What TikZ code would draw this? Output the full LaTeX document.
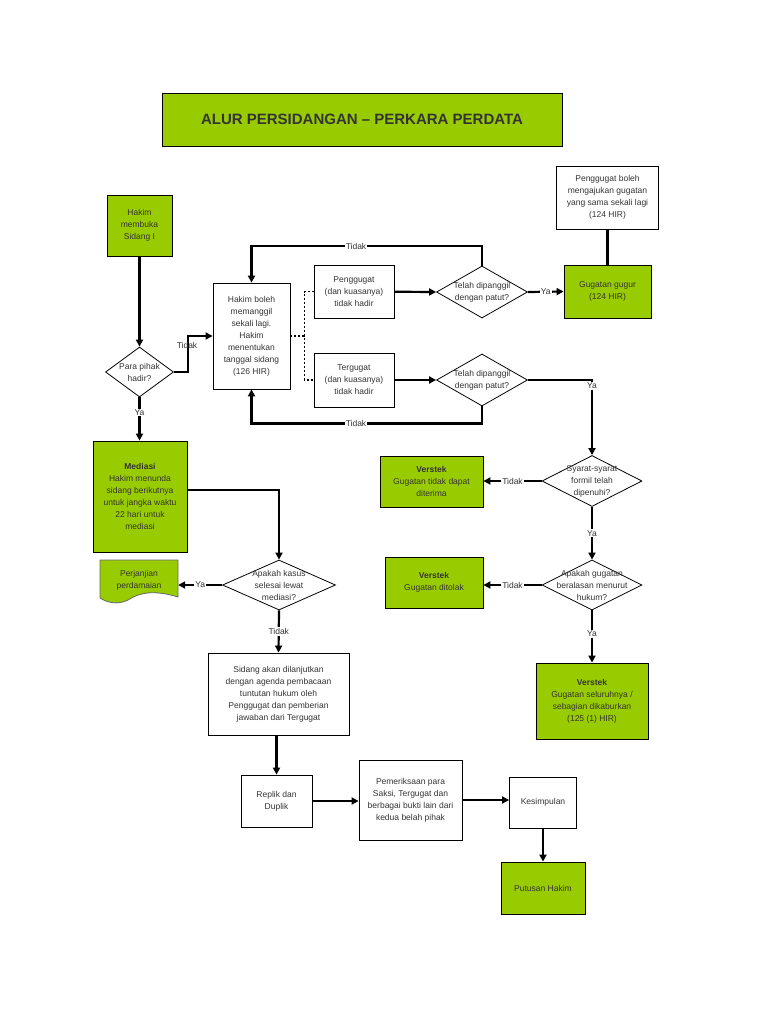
\documentclass[tikz,border=0pt]{standalone}
\usepackage{fontspec}
\setmainfont{Liberation Sans}
\usetikzlibrary{shapes.geometric,arrows.meta}
\definecolor{lg}{RGB}{153,204,0}
\begin{document}
\begin{tikzpicture}[x=1pt,y=-1pt,
 txt/.style={font=\fontsize{8.5}{12}\selectfont,align=center,text=black!80},
 box/.style={txt,draw,line width=0.8pt,inner sep=2pt},
 gbox/.style={box,fill=lg},
 dia/.style={draw,line width=0.8pt,diamond,inner sep=0pt},
 arr/.style={line width=2.2pt,-{Triangle[length=7pt,width=7pt]}},
 ln/.style={line width=2.2pt},
 dot/.style={line width=1.6pt,dash pattern=on 2pt off 2pt},
 lbl/.style={txt,fill=white,inner sep=1pt}]
\useasboundingbox (0,0) rectangle (768,1024);
\node[gbox,minimum width=400,minimum height=53,font=\bfseries\fontsize{15}{18}\selectfont] (title) at (362,119.5) {ALUR PERSIDANGAN -- PERKARA PERDATA};
\node[gbox,minimum width=65,minimum height=61] (open) at (139.5,225.5) {Hakim\\membuka\\Sidang I};
\node[dia,minimum width=68,minimum height=50,label={[txt]center:Para pihak\\hadir?}] (pp) at (139.5,372) {};
\node[box,minimum width=77,minimum height=106] (hb) at (251.5,336) {Hakim boleh\\memanggil\\sekali lagi.\\Hakim\\menentukan\\tanggal sidang\\(126 HIR)};
\node[box,minimum width=80,minimum height=53] (pg) at (354,291.5) {Penggugat\\(dan kuasanya)\\tidak hadir};
\node[box,minimum width=80,minimum height=54] (tg) at (354,380) {Tergugat\\(dan kuasanya)\\tidak hadir};
\node[dia,minimum width=91,minimum height=52,label={[txt]center:Telah dipanggil\\dengan patut?}] (t1) at (482,292) {};
\node[dia,minimum width=91,minimum height=52,label={[txt]center:Telah dipanggil\\dengan patut?}] (t2) at (482,380) {};
\node[gbox,minimum width=87,minimum height=53] (gg) at (607.5,291.5) {Gugatan gugur\\(124 HIR)};
\node[box,minimum width=102,minimum height=63] (pb) at (607.5,197.5) {Penggugat boleh\\mengajukan gugatan\\yang sama sekali lagi\\(124 HIR)};
\node[gbox,minimum width=94,minimum height=111] (med) at (140,496.5) {\textbf{Mediasi}\\Hakim menunda\\sidang berikutnya\\untuk jangka waktu\\22 hari untuk\\mediasi};
\node[dia,minimum width=113,minimum height=50,label={[txt]center:Apakah kasus\\selesai lewat\\mediasi?}] (ak) at (279,585) {};
\fill[lg,draw=black!60,line width=0.8pt] (100,560) -- (178,560) -- (178,597) .. controls (155,590) and (140,592) .. (128,600) .. controls (118,605) and (108,603) .. (100,598) -- cycle;
\node[txt,minimum width=78,minimum height=34] (perj) at (139,580) {Perjanjian\\perdamaian};
\node[box,minimum width=141,minimum height=82] (sid) at (278.5,694) {Sidang akan dilanjutkan\\dengan agenda pembacaan\\tuntutan hukum oleh\\Penggugat dan pemberian\\jawaban dari Tergugat};
\node[box,minimum width=71,minimum height=52] (rep) at (276.5,801) {Replik dan\\Duplik};
\node[box,minimum width=103,minimum height=80] (pem) at (410.5,800) {Pemeriksaan para\\Saksi, Tergugat dan\\berbagai bukti lain dari\\kedua belah pihak};
\node[box,minimum width=67,minimum height=51] (kes) at (543,802.5) {Kesimpulan};
\node[gbox,minimum width=84,minimum height=52] (put) at (543,888) {Putusan Hakim};
\node[dia,minimum width=100,minimum height=51,label={[txt]center:Syarat-syarat\\formil telah\\dipenuhi?}] (sy) at (592,481) {};
\node[gbox,minimum width=103,minimum height=51] (v1) at (431.5,481.5) {\textbf{Verstek}\\Gugatan tidak dapat\\diterima};
\node[dia,minimum width=100,minimum height=50,label={[txt]center:Apakah gugatan\\beralasan menurut\\hukum?}] (ag) at (592,585) {};
\node[gbox,minimum width=98,minimum height=51] (v2) at (434,582.5) {\textbf{Verstek}\\Gugatan ditolak};
\node[gbox,minimum width=112,minimum height=76] (v3) at (592,701) {\textbf{Verstek}\\Gugatan seluruhnya /\\sebagian dikaburkan\\(125 (1) HIR)};
% connectors
\draw[arr] (open.south -| pp.north) -- (pp.north);
\draw[arr] (pp.south) -- (pp.south |- med.north) node[lbl,pos=0.35] (l1) {Ya};
\draw[arr] (pp.east) -- ++(14,0) |- (hb.west);
\node[txt,anchor=south] (l2) at (187,352) {Tidak};
\draw[dot] (hb.east) -- ++(14,0) coordinate (dj);
\draw[dot] (pg.west) -| (dj) |- (tg.west);
\draw[arr] (pg) -- (t1.west);
\draw[arr] (tg) -- (t2.west);
\draw[arr] (t1.north) -- ++(0,-20) -| (hb.north);
\node[lbl] (l3) at (356,246) {Tidak};
\draw[arr] (t2.south) -- ++(0,17) -| (hb.south);
\node[lbl] (l4) at (356,423) {Tidak};
\draw[arr] (t1.east) -- (gg.west) node[lbl,midway] (l5) {Ya};
\draw[ln] (pb.south) -- (gg.north);
\draw[arr] (t2.east) -| (sy.north);
\node[lbl] (l6) at (592,386) {Ya};
\draw[arr] (sy.west) -- (v1.east |- sy.west) node[lbl,midway] (l7) {Tidak};
\draw[arr] (sy.south) -- (ag.north) node[lbl,midway] (l8) {Ya};
\draw[arr] (ag.west) -- (v2.east |- ag.west) node[lbl,midway] (l9) {Tidak};
\draw[arr] (ag.south) -- (v3.north) node[lbl,pos=0.45] (l10) {Ya};
\draw[arr] (med.east |- 0,490) -| (ak.north);
\draw[arr] (ak.west) -- (perj.east |- ak.west) node[lbl,midway] (l11) {Ya};
\draw[arr] (ak.south) -- (sid.north) node[lbl,midway] (l12) {Tidak};
\draw[arr] (rep.north |- sid.south) -- (rep.north);
\draw[arr] (rep.east) -- (pem.west |- rep.east);
\draw[arr] (pem.east) -- (kes.west |- pem.east);
\draw[arr] (kes.south) -- (put.north);
\end{tikzpicture}
\end{document}
